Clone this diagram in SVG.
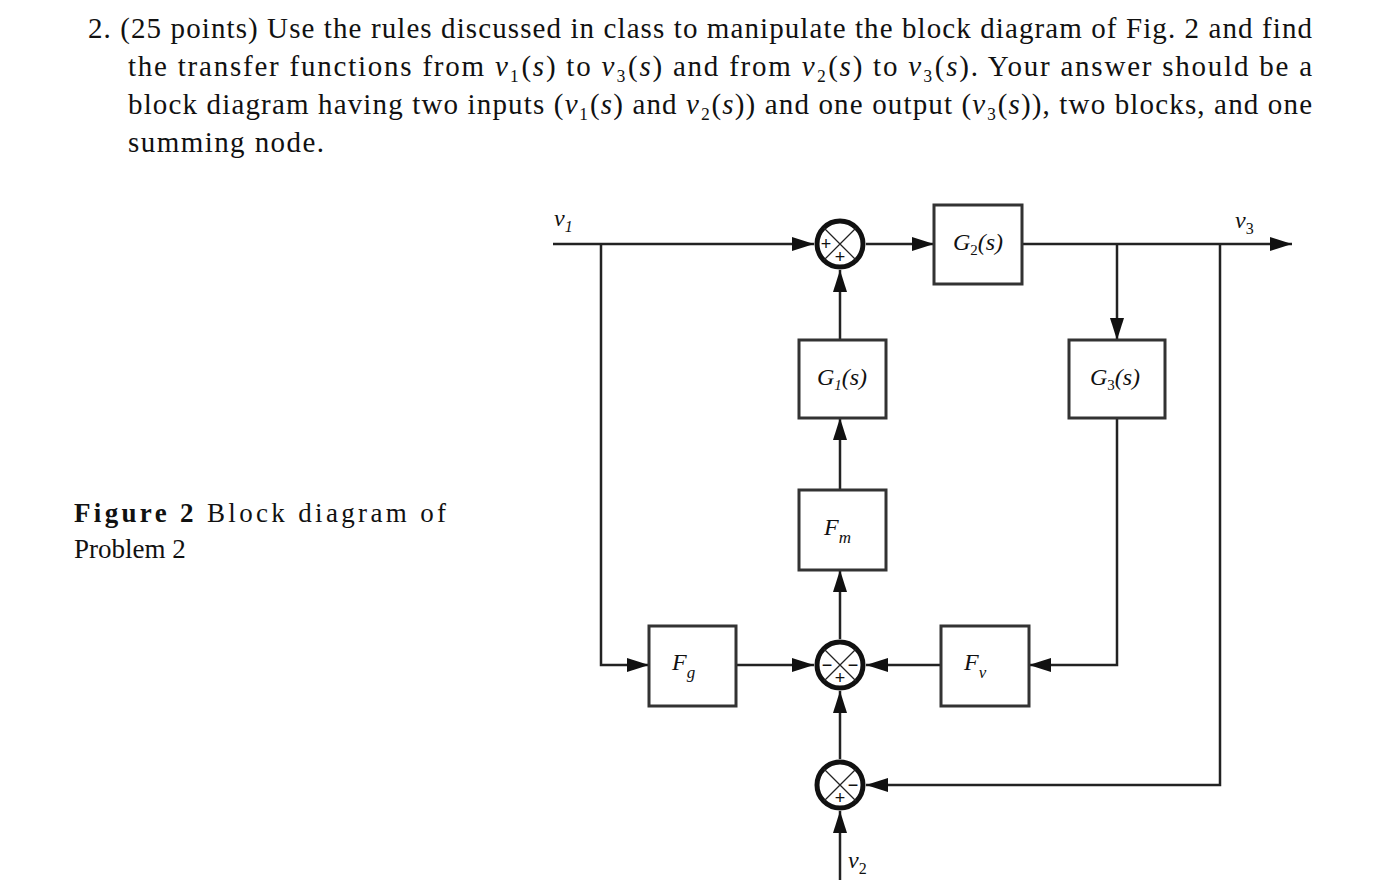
<svg xmlns="http://www.w3.org/2000/svg" width="1384" height="894" viewBox="0 0 1384 894">
<style>
text{font-family:"Liberation Serif",serif;fill:#111}
.t{font-size:29px}
.b{fill:#fff;stroke:#333;stroke-width:3}
.l{fill:none;stroke:#222;stroke-width:2.5}
.s{fill:#fff;stroke:#111;stroke-width:5}
.x{stroke:#222;stroke-width:1.3}
.bl{font-size:24px;font-style:italic}
.sg{font-size:18px;font-family:"Liberation Sans",sans-serif}
</style>
<defs><marker id="A" viewBox="0 0 10 10" refX="10" refY="5" markerWidth="22" markerHeight="14" orient="auto" markerUnits="userSpaceOnUse" preserveAspectRatio="none"><path d="M0,0L10,5L0,10z" fill="#111"/></marker></defs>
<text class="t" x="88" y="38" textLength="1224" lengthAdjust="spacing">2. (25 points) Use the rules discussed in class to manipulate the block diagram of Fig. 2 and find</text>
<text class="t" x="128" y="76" textLength="1184" lengthAdjust="spacing">the transfer functions from <tspan font-style="italic">v</tspan>₁(<tspan font-style="italic">s</tspan>) to <tspan font-style="italic">v</tspan>₃(<tspan font-style="italic">s</tspan>) and from <tspan font-style="italic">v</tspan>₂(<tspan font-style="italic">s</tspan>) to <tspan font-style="italic">v</tspan>₃(<tspan font-style="italic">s</tspan>).  Your answer should be a</text>
<text class="t" x="128" y="114" textLength="1184" lengthAdjust="spacing">block diagram having two inputs (<tspan font-style="italic">v</tspan>₁(<tspan font-style="italic">s</tspan>) and <tspan font-style="italic">v</tspan>₂(<tspan font-style="italic">s</tspan>)) and one output (<tspan font-style="italic">v</tspan>₃(<tspan font-style="italic">s</tspan>)), two blocks, and one</text>
<text class="t" x="128" y="152" textLength="196" lengthAdjust="spacing">summing node.</text>
<text x="74" y="522" font-size="27" textLength="372" lengthAdjust="spacing"><tspan font-weight="bold">Figure 2</tspan>  Block diagram of</text>
<text x="74" y="558" font-size="27">Problem 2</text>
<g id="connectors" class="l">
<path d="M553,244H814" marker-end="url(#A)"/>
<path d="M866,244H934" marker-end="url(#A)"/>
<path d="M1022,244H1292" marker-end="url(#A)"/>
<path d="M601,244V665H649" marker-end="url(#A)"/>
<path d="M736,665H814" marker-end="url(#A)"/>
<path d="M941,665H866" marker-end="url(#A)"/>
<path d="M1117,244V340" marker-end="url(#A)"/>
<path d="M1117,418V665H1029" marker-end="url(#A)"/>
<path d="M1220,244V785H866" marker-end="url(#A)"/>
<path d="M840,880V811" marker-end="url(#A)"/>
<path d="M840,759V691" marker-end="url(#A)"/>
<path d="M840,639V570" marker-end="url(#A)"/>
<path d="M840,490V418" marker-end="url(#A)"/>
<path d="M840,340V270" marker-end="url(#A)"/>
</g>
<g id="sum1"><circle class="s" cx="840" cy="244" r="23"/><path class="x" d="M824,228L856,260M856,228L824,260"/><text class="sg" x="826" y="250" text-anchor="middle">+</text><text class="sg" x="840" y="263" text-anchor="middle">+</text></g>
<g id="sum2"><circle class="s" cx="840" cy="665" r="23"/><path class="x" d="M824,649L856,681M856,649L824,681"/><text class="sg" x="827" y="671" text-anchor="middle">−</text><text class="sg" x="853" y="671" text-anchor="middle">−</text><text class="sg" x="840" y="684" text-anchor="middle">+</text></g>
<g id="sum3"><circle class="s" cx="840" cy="785" r="23"/><path class="x" d="M824,769L856,801M856,769L824,801"/><text class="sg" x="853" y="791" text-anchor="middle">−</text><text class="sg" x="840" y="804" text-anchor="middle">+</text></g>
<g id="G2"><rect class="b" x="934" y="205" width="88" height="79"/><text class="bl" x="978" y="250" text-anchor="middle">G<tspan font-size="15" dy="5" font-style="normal">2</tspan><tspan dy="-5">(s)</tspan></text></g>
<g id="G1"><rect class="b" x="799" y="340" width="87" height="78"/><text class="bl" x="842" y="385" text-anchor="middle">G<tspan font-size="15" dy="5">1</tspan><tspan dy="-5">(s)</tspan></text></g>
<g id="G3"><rect class="b" x="1069" y="340" width="96" height="78"/><text class="bl" x="1115" y="385" text-anchor="middle">G<tspan font-size="15" dy="5" font-style="normal">3</tspan><tspan dy="-5">(s)</tspan></text></g>
<g id="Fm"><rect class="b" x="799" y="490" width="87" height="80"/><text class="bl" x="824" y="535">F<tspan font-size="17" dy="8">m</tspan></text></g>
<g id="Fg"><rect class="b" x="649" y="626" width="87" height="80"/><text class="bl" x="672" y="670">F<tspan font-size="17" dy="8">g</tspan></text></g>
<g id="Fv"><rect class="b" x="941" y="626" width="88" height="80"/><text class="bl" x="964" y="670">F<tspan font-size="17" dy="8">v</tspan></text></g>
<text class="bl" x="554" y="226">v<tspan font-size="16" dy="6">1</tspan></text>
<text class="bl" x="1235" y="228">v<tspan font-size="16" dy="6" font-style="normal">3</tspan></text>
<text class="bl" x="848" y="868">v<tspan font-size="16" dy="6" font-style="normal">2</tspan></text>
</svg>
